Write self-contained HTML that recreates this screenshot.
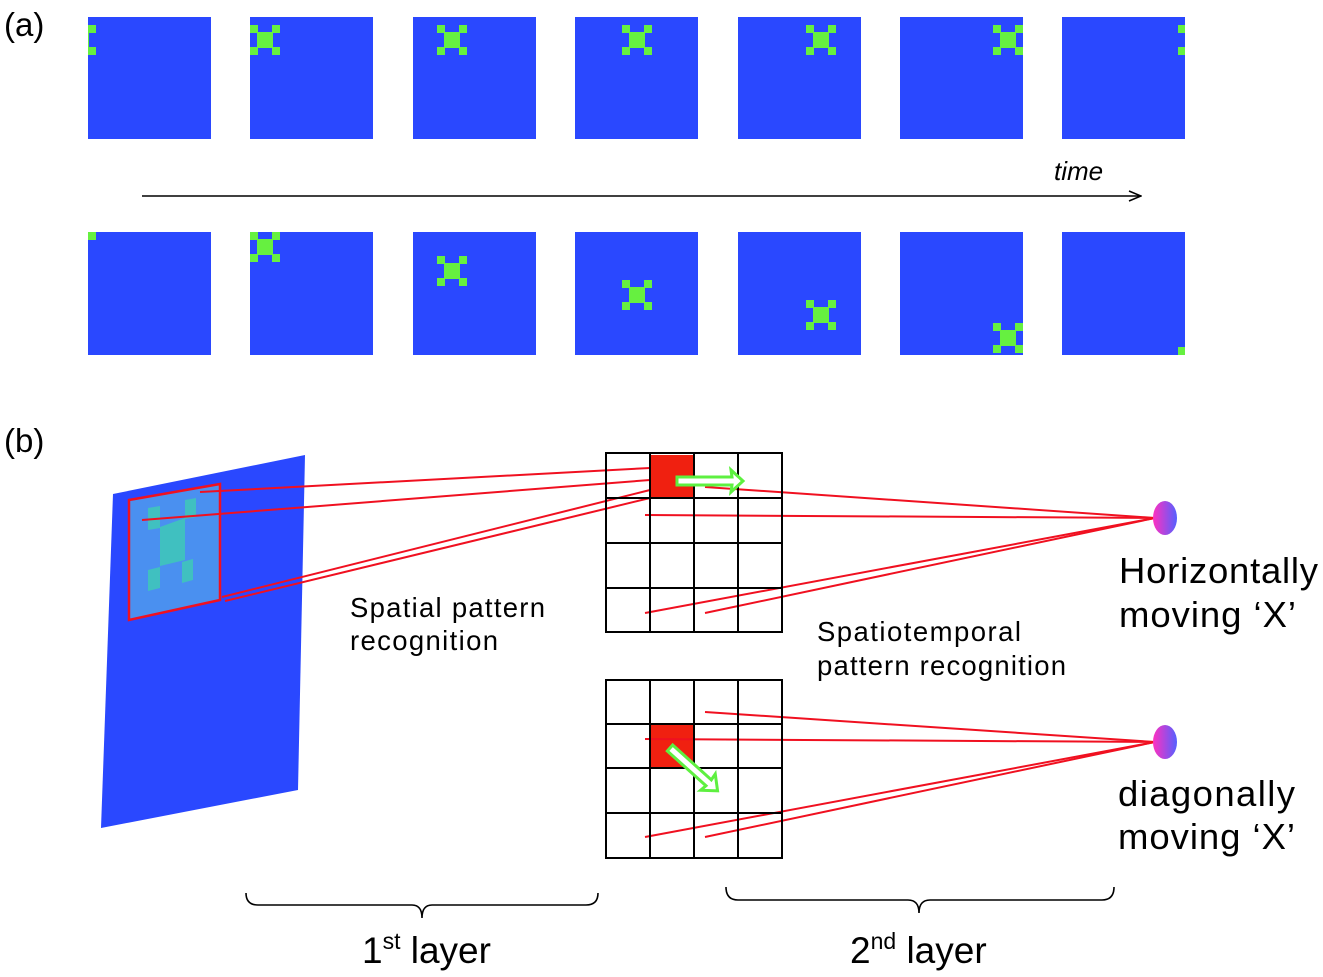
<!DOCTYPE html>
<html><head><meta charset="utf-8"><style>
html,body{margin:0;padding:0;background:#fff;}
svg{display:block;font-family:"Liberation Sans",Arial,sans-serif;}
</style></head><body>
<svg width="1323" height="977" viewBox="0 0 1323 977" xmlns="http://www.w3.org/2000/svg">
<defs>
<g id="X" fill="#66f040">
<rect x="0" y="0" width="8" height="8"/><rect x="22" y="0" width="8" height="8"/>
<rect x="7" y="7" width="16" height="16"/>
<rect x="0" y="22" width="8" height="8"/><rect x="22" y="22" width="8" height="8"/>
</g>
<linearGradient id="ball" x1="0" x2="1"><stop offset="0" stop-color="#ff30c0"/><stop offset="1" stop-color="#5560ff"/></linearGradient>
<marker id="ah" markerWidth="14" markerHeight="12" refX="13" refY="6" orient="auto" markerUnits="userSpaceOnUse"><path d="M1,1 L13,6 L1,11" fill="none" stroke="#000" stroke-width="1.5"/></marker>
</defs>
<text x="4" y="36" font-size="33">(a)</text>
<text x="4" y="452" font-size="33">(b)</text>

<svg x="88" y="17" width="123" height="122"><rect width="123" height="122" fill="#2a48ff"/><use href="#X" x="-22" y="8"/></svg>
<svg x="250" y="17" width="123" height="122"><rect width="123" height="122" fill="#2a48ff"/><use href="#X" x="0" y="8"/></svg>
<svg x="413" y="17" width="123" height="122"><rect width="123" height="122" fill="#2a48ff"/><use href="#X" x="24" y="8"/></svg>
<svg x="575" y="17" width="123" height="122"><rect width="123" height="122" fill="#2a48ff"/><use href="#X" x="47" y="8"/></svg>
<svg x="738" y="17" width="123" height="122"><rect width="123" height="122" fill="#2a48ff"/><use href="#X" x="68" y="8"/></svg>
<svg x="900" y="17" width="123" height="122"><rect width="123" height="122" fill="#2a48ff"/><use href="#X" x="93" y="8"/></svg>
<svg x="1062" y="17" width="123" height="122"><rect width="123" height="122" fill="#2a48ff"/><use href="#X" x="116" y="8"/></svg>

<line x1="142" y1="196" x2="1141" y2="196" stroke="#000" stroke-width="1.6" marker-end="url(#ah)"/>
<text x="1054" y="180" font-size="26" font-style="italic">time</text>

<svg x="88" y="232" width="123" height="123"><rect width="123" height="123" fill="#2a48ff"/><use href="#X" x="-22" y="-22"/></svg>
<svg x="250" y="232" width="123" height="123"><rect width="123" height="123" fill="#2a48ff"/><use href="#X" x="0" y="0"/></svg>
<svg x="413" y="232" width="123" height="123"><rect width="123" height="123" fill="#2a48ff"/><use href="#X" x="24" y="24"/></svg>
<svg x="575" y="232" width="123" height="123"><rect width="123" height="123" fill="#2a48ff"/><use href="#X" x="47" y="48"/></svg>
<svg x="738" y="232" width="123" height="123"><rect width="123" height="123" fill="#2a48ff"/><use href="#X" x="68" y="68"/></svg>
<svg x="900" y="232" width="123" height="123"><rect width="123" height="123" fill="#2a48ff"/><use href="#X" x="93" y="91"/></svg>
<svg x="1062" y="232" width="123" height="123"><rect width="123" height="123" fill="#2a48ff"/><use href="#X" x="116" y="115"/></svg>

<polygon points="113,494 305,455 298,790 101,828" fill="#2a48ff"/>
<polygon points="129,500 220,484 220,600 129,620" fill="#4a90f0"/>
<g fill="#40c0c0">
<polygon points="148,508 160,506 160,528 148,530"/>
<polygon points="185,500 196,498 196,517 185,519"/>
<polygon points="160,527 185,518 185,560 160,566"/>
<polygon points="148,570 160,567 160,588 148,591"/>
<polygon points="182,562 193,559 193,580 182,583"/>
</g>
<polygon points="129,500 220,484 220,600 129,620" fill="none" stroke="#f01020" stroke-width="2.5"/>

<rect x="650" y="455" width="44" height="43" fill="#f02010"/>
<rect x="650" y="724" width="44" height="44" fill="#f02010"/>
<g stroke="#f01020" stroke-width="2" fill="none">
<line x1="200" y1="492" x2="650" y2="468"/>
<line x1="142" y1="520" x2="650" y2="480"/>
<line x1="222" y1="597" x2="650" y2="490"/>
<line x1="225" y1="601" x2="650" y2="498"/>
<line x1="705" y1="487" x2="1155" y2="518"/>
<line x1="645" y1="515" x2="1155" y2="518"/>
<line x1="645" y1="613" x2="1155" y2="518"/>
<line x1="705" y1="613" x2="1155" y2="518"/>
<line x1="705" y1="712" x2="1155" y2="742"/>
<line x1="645" y1="739" x2="1155" y2="742"/>
<line x1="645" y1="837" x2="1155" y2="742"/>
<line x1="705" y1="837" x2="1155" y2="742"/>
</g>
<g stroke="#000" stroke-width="2" fill="none">
<rect x="606" y="453" width="176" height="179"/>
<line x1="650" y1="453" x2="650" y2="632"/><line x1="694" y1="453" x2="694" y2="632"/><line x1="738" y1="453" x2="738" y2="632"/>
<line x1="606" y1="498" x2="782" y2="498"/><line x1="606" y1="543" x2="782" y2="543"/><line x1="606" y1="588" x2="782" y2="588"/>
<rect x="606" y="680" width="176" height="178"/>
<line x1="650" y1="680" x2="650" y2="858"/><line x1="694" y1="680" x2="694" y2="858"/><line x1="738" y1="680" x2="738" y2="858"/>
<line x1="606" y1="724" x2="782" y2="724"/><line x1="606" y1="768" x2="782" y2="768"/><line x1="606" y1="813" x2="782" y2="813"/>
</g>
<polygon points="677,477 732,477 731,470 743,481 731,492 732,485 677,485" fill="#fff" stroke="#5ef040" stroke-width="3"/>
<g transform="translate(670,748) rotate(42)">
<polygon points="0,-4 52,-4 51,-11 64,0 51,11 52,4 0,4" fill="#fff" stroke="#5ef040" stroke-width="3"/>
</g>

<ellipse cx="1165" cy="518" rx="12" ry="17" fill="url(#ball)"/>
<ellipse cx="1165" cy="742" rx="12" ry="17" fill="url(#ball)"/>

<g font-size="27.5">
<text x="350" y="617" textLength="195">Spatial pattern</text>
<text x="350" y="650" textLength="148">recognition</text>
<text x="817" y="641" textLength="204">Spatiotemporal</text>
<text x="817" y="675" textLength="249">pattern recognition</text>
</g>
<g font-size="36.5">
<text x="1119" y="583" textLength="199">Horizontally</text>
<text x="1119" y="627" textLength="177">moving ‘X’</text>
<text x="1118" y="806" textLength="177">diagonally</text>
<text x="1118" y="849" textLength="177">moving ‘X’</text>
</g>

<g fill="none" stroke="#000" stroke-width="1.6">
<path d="M246,893 Q246,905 258,905 L412,905 Q422,905 422,918 Q422,905 432,905 L586,905 Q598,905 598,893"/>
<path d="M726,887 Q726,900 738,900 L908,900 Q919,900 919,913 Q919,900 930,900 L1102,900 Q1114,900 1114,887"/>
</g>
<text x="362" y="963" font-size="37">1<tspan font-size="23" dy="-14">st</tspan><tspan dy="14"> layer</tspan></text>
<text x="850" y="963" font-size="37">2<tspan font-size="23" dy="-14">nd</tspan><tspan dy="14"> layer</tspan></text>
</svg>
</body></html>
